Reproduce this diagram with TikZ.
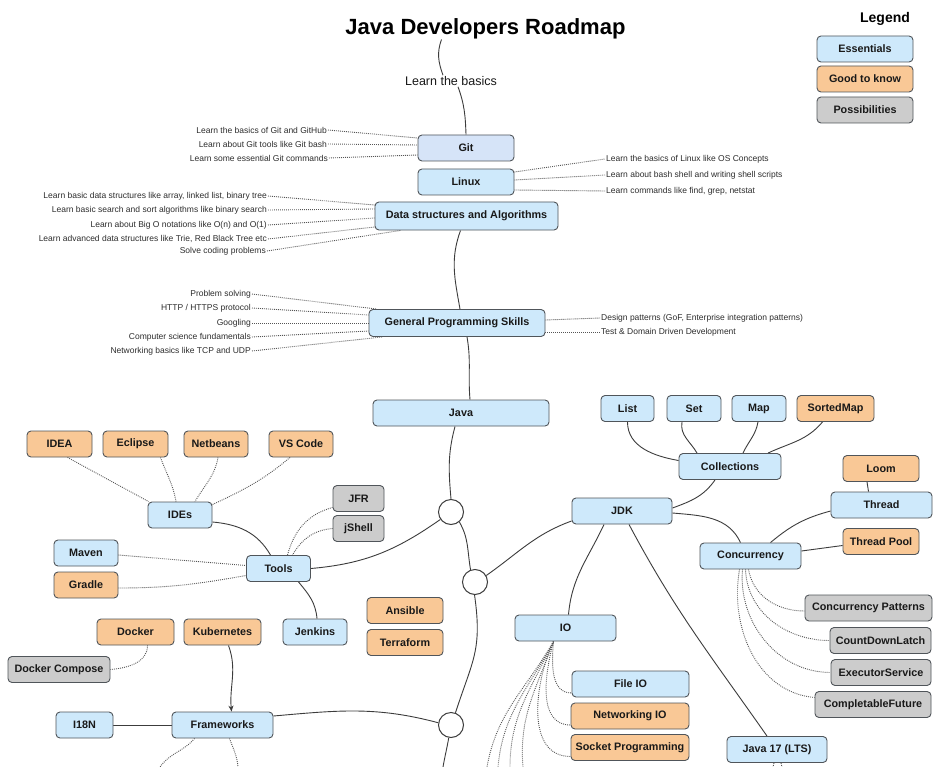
\documentclass[tikz,border=0pt]{standalone}
\usepackage{fontspec}
\setmainfont{Liberation Sans}
\usetikzlibrary{arrows.meta,calc}
\pgfdeclarelayer{bg}
\pgfdeclarelayer{paper}
\pgfsetlayers{paper,bg,main}
\definecolor{essblue}{RGB}{206,233,251}
\definecolor{gitblue}{RGB}{214,228,248}
\definecolor{goodorange}{RGB}{249,200,150}
\definecolor{possgray}{RGB}{204,204,204}
\definecolor{edgecol}{RGB}{80,85,90}
\definecolor{linecol}{RGB}{60,60,60}
\definecolor{dotcol}{RGB}{85,85,85}
\definecolor{txtcol}{RGB}{25,25,25}
\definecolor{lblcol}{RGB}{45,45,45}
\begin{document}
\begin{tikzpicture}[x=1pt,y=-1pt,
 boxbase/.style={rectangle, rounded corners=4pt, draw=edgecol, line width=0.9pt, inner sep=0pt, minimum height=26pt, text=txtcol, font=\bfseries\fontsize{10.8}{12}\selectfont},
 ess/.style={boxbase, fill=essblue},
 good/.style={boxbase, fill=goodorange},
 poss/.style={boxbase, fill=possgray},
 lbl/.style={font=\fontsize{8.5}{10}\selectfont, text=lblcol, inner sep=1pt},
 conn/.style={draw=linecol, line width=0.9pt},
 dotl/.style={draw=dotcol, line width=0.9pt, dash pattern=on 0.9pt off 1.1pt},
 hub/.style={circle, draw=linecol, line width=1pt, fill=white, minimum size=25pt, inner sep=0pt},
]
\begin{pgfonlayer}{paper}
\fill[white] (0,0) rectangle (933,767);
\end{pgfonlayer}
\useasboundingbox (0,0) rectangle (933,767);

% title and legend
\node[font=\bfseries\fontsize{22}{26}\selectfont, text=black, inner sep=0pt] (title) at (485.5,29) {Java Developers Roadmap};
\node[font=\fontsize{12.5}{15}\selectfont, text=txtcol, inner sep=1pt] (learn) at (451,81) {Learn the basics};
\node[font=\bfseries\fontsize{14}{16}\selectfont, text=black, inner sep=0pt] (legend) at (885,19) {Legend};
\node[ess, minimum width=96pt] (lgess) at (865,49) {Essentials};
\node[good, minimum width=96pt] (lggood) at (865,79) {Good to know};
\node[poss, minimum width=96pt] (lgposs) at (865,110) {Possibilities};

% spine
\node[boxbase, fill=gitblue, minimum width=96pt] (git) at (466,148) {Git};
\node[ess, minimum width=96pt] (linux) at (466,182) {Linux};
\node[ess, minimum width=183pt, minimum height=28pt] (dsa) at (466.5,216) {Data structures and Algorithms};
\node[ess, minimum width=176pt, minimum height=27pt] (gps) at (457,323) {General Programming Skills};
\node[ess, minimum width=176pt] (java) at (461,413) {Java};
\node[hub] (c1) at (451,512) {};
\node[hub] (c2) at (475,582) {};
\node[hub] (c3) at (451,725) {};
\coordinate (spineEnd) at (443,767);

% git labels
\node[lbl, anchor=east] (gl1) at (328,130) {Learn the basics of Git and GitHub};
\node[lbl, anchor=east] (gl2) at (328,144) {Learn about Git tools like Git bash};
\node[lbl, anchor=east] (gl3) at (329,158) {Learn some essential Git commands};
% linux labels
\node[lbl, anchor=west] (ll1) at (605,159) {Learn the basics of Linux like OS Concepts};
\node[lbl, anchor=west] (ll2) at (605,175) {Learn about bash shell and writing shell scripts};
\node[lbl, anchor=west] (ll3) at (605,191) {Learn commands like find, grep, netstat};
% dsa labels
\node[lbl, anchor=east] (dl1) at (268,196) {Learn basic data structures like array, linked list, binary tree};
\node[lbl, anchor=east] (dl2) at (268,210) {Learn basic search and sort algorithms like binary search};
\node[lbl, anchor=east] (dl3) at (268,225) {Learn about Big O notations like O(n) and O(1)};
\node[lbl, anchor=east] (dl4) at (268,239) {Learn advanced data structures like Trie, Red Black Tree etc};
\node[lbl, anchor=east] (dl5) at (267,251) {Solve coding problems};
% gps labels
\node[lbl, anchor=east] (pl1) at (252,294) {Problem solving};
\node[lbl, anchor=east] (pl2) at (252,308) {HTTP / HTTPS protocol};
\node[lbl, anchor=east] (pl3) at (252,323) {Googling};
\node[lbl, anchor=east] (pl4) at (252,337) {Computer science fundamentals};
\node[lbl, anchor=east] (pl5) at (252,351) {Networking basics like TCP and UDP};
\node[lbl, anchor=west] (gr1) at (600,318) {Design patterns (GoF, Enterprise integration patterns)};
\node[lbl, anchor=west] (gr2) at (600,332) {Test \& Domain Driven Development};

% tools area
\node[good, minimum width=65pt] (idea) at (59.5,444) {IDEA};
\node[good, minimum width=65pt] (eclipse) at (135.5,444) {Eclipse};
\node[good, minimum width=64pt] (netbeans) at (216,444) {Netbeans};
\node[good, minimum width=64pt] (vscode) at (301,444) {VS Code};
\node[ess, minimum width=64pt] (ides) at (180,515) {IDEs};
\node[poss, minimum width=51pt] (jfr) at (358.5,498.5) {JFR};
\node[poss, minimum width=51pt] (jshell) at (358.5,528.5) {jShell};
\node[ess, minimum width=64pt] (tools) at (278.5,568.5) {Tools};
\node[ess, minimum width=64pt] (maven) at (86,553) {Maven};
\node[good, minimum width=64pt] (gradle) at (86,585) {Gradle};
\node[ess, minimum width=64pt] (jenkins) at (315,632) {Jenkins};
\node[good, minimum width=76pt] (ansible) at (405,610.5) {Ansible};
\node[good, minimum width=76pt] (terraform) at (405,642.5) {Terraform};
\node[good, minimum width=77pt] (docker) at (135.5,632) {Docker};
\node[good, minimum width=77pt] (kube) at (222.5,632) {Kubernetes};
\node[poss, minimum width=102pt] (dcompose) at (59,669.5) {Docker Compose};
\node[ess, minimum width=57pt] (i18n) at (84.5,725) {I18N};
\node[ess, minimum width=101pt] (frameworks) at (222.5,725) {Frameworks};
\coordinate (fwA) at (160,767);
\coordinate (fwB) at (238,767);

% jdk area
\node[ess, minimum width=53pt] (list) at (627.5,408.5) {List};
\node[ess, minimum width=54pt] (set) at (694,408.5) {Set};
\node[ess, minimum width=54pt] (map) at (759,408.5) {Map};
\node[good, minimum width=77pt] (sortedmap) at (835.5,408.5) {SortedMap};
\node[ess, minimum width=102pt] (collections) at (730,466.5) {Collections};
\node[ess, minimum width=100pt] (jdk) at (622,511) {JDK};
\node[ess, minimum width=101pt] (concurrency) at (750.5,556) {Concurrency};
\node[good, minimum width=76pt] (loom) at (881,468.5) {Loom};
\node[ess, minimum width=101pt] (thread) at (881.5,505) {Thread};
\node[good, minimum width=76pt] (threadpool) at (881,541.5) {Thread Pool};
\node[poss, minimum width=127pt] (cpatterns) at (868.5,608) {Concurrency Patterns};
\node[poss, minimum width=101pt] (cdl) at (880.5,640.5) {CountDownLatch};
\node[poss, minimum width=100pt] (exec) at (881,672.5) {ExecutorService};
\node[poss, minimum width=116pt] (cfuture) at (873,704.5) {CompletableFuture};
\node[ess, minimum width=100pt] (java17) at (777,749.5) {Java 17 (LTS)};
\node[ess, minimum width=101pt] (io) at (565.5,628) {IO};
\node[ess, minimum width=117pt] (fileio) at (630.5,684) {File IO};
\node[good, minimum width=118pt] (netio) at (630,716) {Networking IO};
\node[good, minimum width=118pt] (socket) at (630,747.5) {Socket Programming};
\coordinate (ioA) at (487,767);
\coordinate (ioB) at (498,767);
\coordinate (ioC) at (510,767);
\coordinate (ioD) at (523,767);
\coordinate (j17a) at (773,767);
\coordinate (j17b) at (782,767);

\begin{pgfonlayer}{bg}
% spine
\draw[conn] ([xshift=-44pt]title.south) to[out=250,in=110] ([xshift=-8pt]learn.north);
\draw[conn] ([xshift=7pt]learn.south) to[out=-70,in=92] (git.north);
\draw[conn] ([xshift=-6pt]dsa.south) to[out=250,in=100] ([xshift=3pt]gps.north);
\draw[conn] ([xshift=10pt]gps.south) to[out=-80,in=95] ([xshift=9pt]java.north);
\draw[conn] ([xshift=-6pt]java.south) to[out=255,in=95] (c1.north);
\draw[conn] (c1.-50) to[out=-60,in=100] (c2.110);
\draw[conn] (c2.-92) to[out=-82,in=72,looseness=1.2] (c3.70);
\draw[conn] (c3.-100) to[out=-100,in=80] (spineEnd);
\draw[conn] (tools.east) to[out=5,in=215] (c1.215);
\draw[conn] ([yshift=-10pt]jdk.west) to[out=200,in=35] (c2.30);
\draw[conn] ([yshift=9pt]frameworks.east) to[out=5,in=165] (c3.170);

% label lines
\draw[dotl] (gl1.east) -- ([yshift=10pt]git.west);
\draw[dotl] (gl2.east) -- ([yshift=3pt]git.west);
\draw[dotl] (gl3.east) -- ([yshift=-7pt]git.west);
\draw[dotl] ([yshift=10pt]linux.east) -- (ll1.west);
\draw[dotl] ([yshift=2pt]linux.east) -- (ll2.west);
\draw[dotl] ([yshift=-8pt]linux.east) -- (ll3.west);
\draw[dotl] (dl1.east) -- ([yshift=11pt]dsa.west);
\draw[dotl] (dl2.east) -- ([yshift=7pt]dsa.west);
\draw[dotl] (dl3.east) -- ([yshift=-2pt]dsa.west);
\draw[dotl] (dl4.east) -- ([yshift=-11pt]dsa.west);
\draw[dotl] (dl5.east) -- ([xshift=26pt]dsa.south west);
\draw[dotl] (pl1.east) -- ([xshift=8pt]gps.north west);
\draw[dotl] (pl2.east) -- ([yshift=8pt]gps.west);
\draw[dotl] (pl3.east) -- (gps.west);
\draw[dotl] (pl4.east) -- ([yshift=-8pt]gps.west);
\draw[dotl] (pl5.east) -- ([xshift=14pt]gps.south west);
\draw[dotl] ([yshift=3pt]gps.east) -- (gr1.west);
\draw[dotl] ([yshift=-9pt]gps.east) -- (gr2.west);

% tools
\draw[dotl] ([xshift=8pt]idea.south) -- ([xshift=1pt]ides.north west);
\draw[dotl] ([xshift=25pt]eclipse.south) to[out=-70,in=100] ([xshift=-4pt]ides.north);
\draw[dotl] ([xshift=2pt]netbeans.south) to[out=-100,in=60] ([xshift=15pt]ides.north);
\draw[dotl] ([xshift=-11pt]vscode.south) to[out=-140,in=25] ([yshift=-3pt]ides.north east);
\draw[conn] ([yshift=-7pt]ides.east) to[out=-5,in=120] ([xshift=-8pt]tools.north);
\draw[dotl] ([yshift=-9pt]jfr.west) to[out=195,in=75] ([xshift=9pt]tools.north);
\draw[dotl] (jshell.west) to[out=185,in=60] ([xshift=14pt]tools.north);
\draw[dotl] ([yshift=-2pt]maven.east) -- ([yshift=3pt]tools.west);
\draw[dotl] ([yshift=-3pt]gradle.east) to[out=0,in=190] ([yshift=-7pt]tools.west);
\draw[conn] ([xshift=20pt]tools.south) to[out=-50,in=95] ([xshift=2pt]jenkins.north);
\draw[dotl] ([xshift=12pt]docker.south) to[out=-90,in=5] (dcompose.east);
\draw[conn, -{Stealth[length=6pt,width=5pt]}] ([xshift=6pt]kube.south) to[out=-70,in=95] ([xshift=9pt]frameworks.north);
\draw[conn] (i18n.east) -- (frameworks.west);
\draw[dotl] ([xshift=-28pt]frameworks.south) to[out=-130,in=55] (fwA);
\draw[dotl] ([xshift=7pt]frameworks.south) to[out=-70,in=95] (fwB);

% jdk
\draw[conn] (list.south) to[out=-90,in=170] ([yshift=6pt]collections.west);
\draw[conn] ([xshift=-12pt]set.south) to[out=-100,in=120] ([xshift=-33pt]collections.north);
\draw[conn] ([xshift=-1pt]map.south) to[out=-100,in=65] ([xshift=13pt]collections.north);
\draw[conn] ([xshift=-13pt]sortedmap.south) to[out=-130,in=25] ([xshift=38pt]collections.north);
\draw[conn] ([xshift=-15pt]collections.south) to[out=-125,in=20] ([yshift=3pt]jdk.east);
\draw[conn] ([yshift=-2pt]jdk.east) to[out=-5,in=115] ([xshift=-10pt]concurrency.north);
\draw[conn] ([xshift=-18pt]jdk.south) to[out=-115,in=85] ([xshift=3pt]io.north);
\draw[conn] ([xshift=7pt]jdk.south) to[out=-62,in=125] ([xshift=-10pt]java17.north);
\draw[conn] ([xshift=20pt]concurrency.north) to[out=40,in=195] ([yshift=-6pt]thread.west);
\draw[conn] ([yshift=5pt]concurrency.east) -- ([yshift=-4pt]threadpool.west);
\draw[conn] ([xshift=-14pt]loom.south) -- ([xshift=-13pt]thread.north);
\draw[dotl] ([xshift=-2pt]concurrency.south) to[out=-80,in=180] ([yshift=-3pt]cpatterns.west);
\draw[dotl] ([xshift=-5pt]concurrency.south) to[out=-88,in=180] (cdl.west);
\draw[dotl] ([xshift=-8pt]concurrency.south) to[out=-95,in=180] (exec.west);
\draw[dotl] ([xshift=-11pt]concurrency.south) to[out=-100,in=175] ([yshift=7pt]cfuture.west);
\draw[dotl] ([xshift=-12pt]io.south) to[out=-95,in=180] ([yshift=-9pt]fileio.west);
\draw[dotl] ([xshift=-12pt]io.south) to[out=-105,in=180] ([yshift=-9pt]netio.west);
\draw[dotl] ([xshift=-12pt]io.south) to[out=-115,in=180] ([yshift=-9pt]socket.west);
\draw[dotl] ([xshift=-12pt]io.south) to[out=-120,in=80] (ioA);
\draw[dotl] ([xshift=-12pt]io.south) to[out=-118,in=85] (ioB);
\draw[dotl] ([xshift=-12pt]io.south) to[out=-115,in=90] (ioC);
\draw[dotl] ([xshift=-12pt]io.south) to[out=-110,in=95] (ioD);
\draw[dotl] ([xshift=-3pt]java17.south) -- (j17a);
\draw[dotl] ([xshift=4pt]java17.south) -- (j17b);
\end{pgfonlayer}
\end{tikzpicture}
\end{document}
